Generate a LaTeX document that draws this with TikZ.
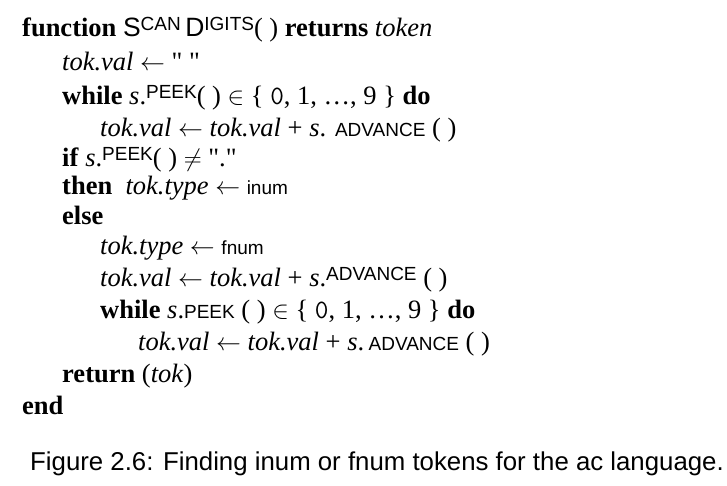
\documentclass[tikz,border=0pt]{standalone}
\usepackage{fontspec}
\setmainfont{Liberation Serif}
\newfontfamily\sfx{Liberation Sans}
\newcommand{\kw}[1]{\textbf{#1}}
\newcommand{\q}{\textquotedbl}
\newcommand{\sfop}[1]{{\sfx\fontsize{19}{22}\selectfont #1}}
\newcommand{\up}[1]{\raisebox{6pt}{\sfop{#1}}}
\begin{document}
\begin{tikzpicture}[x=1pt,y=-1pt,
  line/.style={anchor=base west,inner sep=0pt,font=\fontsize{26.5}{30}\selectfont}]
\useasboundingbox (0,0) rectangle (727,485);
\node[line] (l1) at (22,36) {\kw{function} {\sfx S}\up{CAN}\,{\sfx D}\up{IGITS}( ) \kw{returns} \textit{token}};
\node[line] (l2) at (62,70) {\textit{tok.val} $\leftarrow$ \q\ \q};
\node[line] (l3) at (62,104) {\kw{while} \textit{s}.\up{PEEK}( ) $\in$ \{ \texttt{0}, 1, \dots, 9 \} \kw{do}};
\node[line] (l4) at (100,136) {\textit{tok.val} $\leftarrow$ \textit{tok.val} + \textit{s}. \sfop{ADVANCE} ( )};
\node[line] (l5) at (62,166) {\kw{if} \textit{s}.\up{PEEK}( ) $\neq$ \q.\q};
\node[line] (l6) at (62,194) {\kw{then} \ \textit{tok.type} $\leftarrow$ \sfop{inum}};
\node[line] (l7) at (62,224) {\kw{else}};
\node[line] (l8) at (100,254) {\textit{tok.type} $\leftarrow$ \sfop{fnum}};
\node[line] (l9) at (100,286) {\textit{tok.val} $\leftarrow$ \textit{tok.val} + \textit{s}.\up{ADVANCE} ( )};
\node[line] (l10) at (100,318) {\kw{while} \textit{s}.\sfop{PEEK} ( ) $\in$ \{ \texttt{0}, 1, \dots, 9 \} \kw{do}};
\node[line] (l11) at (138,350) {\textit{tok.val} $\leftarrow$ \textit{tok.val} + \textit{s}.\,\sfop{ADVANCE} ( )};
\node[line] (l12) at (62,382) {\kw{return} (\textit{tok})};
\node[line] (l13) at (22,414) {\kw{end}};
\node[anchor=base west,inner sep=0pt,font=\sfx\fontsize{25.8}{30}\selectfont] (cap) at (30,470) {Figure 2.6: Finding inum or fnum tokens for the ac language.};
\end{tikzpicture}
\end{document}
